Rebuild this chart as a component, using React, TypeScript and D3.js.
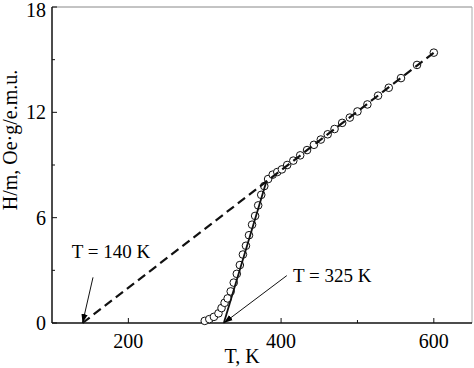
import React from 'react';
import * as d3 from 'd3';

// Measured points: temperature (K) and H/m (Oe·g/e.m.u.)
const tempPts = [
  300, 306, 312, 318, 322, 326, 330, 334, 338, 342, 346, 350, 354, 358, 362, 366, 370, 374, 378, 383, 389, 395,
  401, 408, 416, 425, 434, 443, 452, 461, 470, 480, 490, 500, 513, 527, 541, 557, 578, 600,
];
const hmPts = [
  0.12, 0.22, 0.35, 0.55, 0.85, 1.15, 1.4, 1.8, 2.3, 2.8, 3.3, 3.9, 4.4, 5.0, 5.6, 6.1, 6.7, 7.3, 7.8, 8.2, 8.45, 8.6,
  8.75, 9.0, 9.25, 9.55, 9.85, 10.15, 10.45, 10.75, 11.05, 11.4, 11.7, 12.05, 12.45, 12.95, 13.4, 13.95, 14.7, 15.4,
];

// Curie-Weiss fit (dashed) and steep extrapolation (solid)
const fitT = [140, 600];
const fitH = [0, 15.4];
const steepT = [325, 381];
const steepH = [0, 8.1];

const xTicks = [200, 400, 600];
const xMinor = [300, 500];
const yTicks = [0, 6, 12, 18];
const yMinor = [3, 9, 15];

const W = 474;
const H = 368;
const margin = { top: 7, right: 2, bottom: 45, left: 52 };
const font = '"Liberation Serif", "Times New Roman", serif';

export default function App() {
  const x = d3.scaleLinear().domain([100, 650]).range([margin.left, W - margin.right]);
  const y = d3.scaleLinear().domain([0, 18]).range([H - margin.bottom, margin.top]);

  const line = d3
    .line<[number, number]>()
    .x(d => x(d[0]))
    .y(d => y(d[1]));

  const fit = fitT.map((t, i) => [t, fitH[i]] as [number, number]);
  const steep = steepT.map((t, i) => [t, steepH[i]] as [number, number]);

  const x0 = x(100);
  const x1 = x(650);
  const y0 = y(0);
  const y1 = y(18);

  return (
    <svg
      width={W}
      height={H}
      style={{ position: 'absolute', left: 0, top: 0, background: '#fff', fontFamily: font }}
    >
      <defs>
        <marker id="ah" viewBox="0 0 10 10" refX="10" refY="5" markerWidth="9" markerHeight="9" orient="auto">
          <path d="M0,1.5 L10,5 L0,8.5 Z" fill="#000" />
        </marker>
      </defs>

      {/* frame */}
      <line x1={x0} x2={x1} y1={y1} y2={y1} stroke="#888" strokeWidth={1} />
      <line x1={x1} x2={x1} y1={y1} y2={y0} stroke="#aaa" strokeWidth={1} />
      <line x1={x0} x2={x0} y1={y1} y2={y0} stroke="#111" strokeWidth={1.5} />
      <line x1={x0} x2={x1} y1={y0} y2={y0} stroke="#111" strokeWidth={1.5} />

      {/* ticks (inward) */}
      {yTicks.map(t => (
        <g key={'y' + t}>
          <line x1={x0} x2={x0 + 5} y1={y(t)} y2={y(t)} stroke="#111" />
          <text x={x0 - 6} y={Math.max(y(t), 10)} dy="0.35em" textAnchor="end" fontSize={20}>
            {t}
          </text>
        </g>
      ))}
      {yMinor.map(t => (
        <line key={'ym' + t} x1={x0} x2={x0 + 3} y1={y(t)} y2={y(t)} stroke="#111" />
      ))}
      {xTicks.map(t => (
        <g key={'x' + t}>
          <line x1={x(t)} x2={x(t)} y1={y0} y2={y0 - 5} stroke="#111" />
          <text x={x(t)} y={y0 + 25} textAnchor="middle" fontSize={20}>
            {t}
          </text>
        </g>
      ))}
      {xMinor.map(t => (
        <line key={'xm' + t} x1={x(t)} x2={x(t)} y1={y0} y2={y0 - 3} stroke="#111" />
      ))}

      {/* axis titles */}
      <text x={(x0 + x1) / 2 - 20} y={H - 5} textAnchor="middle" fontSize={20}>
        T, K
      </text>
      <text transform={`translate(17,140) rotate(-90)`} textAnchor="middle" fontSize={20}>
        H/m, Oe·g/e.m.u.
      </text>

      {/* data */}
      {tempPts.map((t, i) => (
        <circle key={i} cx={x(t)} cy={y(hmPts[i])} r={3.8} fill="#fff" stroke="#111" strokeWidth={1} />
      ))}
      <path d={line(fit) || ''} fill="none" stroke="#111" strokeWidth={2.2} strokeDasharray="9,5" />
      <path d={line(steep) || ''} fill="none" stroke="#111" strokeWidth={1.8} />

      {/* annotations */}
      <text x={x(126)} y={y(3.7)} fontSize={19}>
        T = 140 K
      </text>
      <line x1={x(153.7)} y1={y(2.6)} x2={x(140)} y2={y(0)} stroke="#111" strokeWidth={1} markerEnd="url(#ah)" />
      <text x={x(415.6)} y={y(2.33)} fontSize={19}>
        T = 325 K
      </text>
      <line x1={x(407.5)} y1={y(2.7)} x2={x(325)} y2={y(0)} stroke="#111" strokeWidth={1} markerEnd="url(#ah)" />
    </svg>
  );
}
